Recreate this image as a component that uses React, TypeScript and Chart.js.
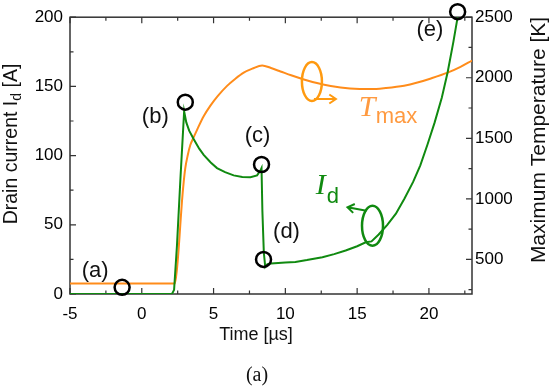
import React, { useEffect, useRef } from "react";
import { Chart, registerables } from "chart.js";

Chart.register(...registerables);

// ---- Drain current Id [A] vs time [µs]
const idTime = [-5, 2.1, 2.25, 2.45, 2.7, 2.95, 3.1, 3.3, 3.61, 4.0, 4.31, 4.8, 5.24, 5.8, 6.4, 7.0, 7.57, 8.03, 8.25, 8.34, 8.4, 8.5, 8.6, 8.75, 9.0, 10.0, 10.7, 11.5, 12.58, 13.4, 14.2, 15.0, 15.6, 16.0, 16.5, 17.1, 17.7, 18.3, 18.9, 19.4, 19.9, 20.4, 20.9, 21.3, 21.7, 22.0];
const idCurrent = [0, 0, 3, 35, 85, 132, 124, 118, 112, 105, 100.5, 95, 91, 88, 85.7, 84.5, 84.3, 85.7, 89, 91, 60, 30, 19.5, 21.5, 22, 22.7, 23.2, 24.5, 26.6, 28.8, 31.4, 34.5, 37.4, 38, 43, 50, 58, 69, 81, 93, 108, 124, 142, 160, 182, 200];

// ---- Maximum temperature [K] vs time [µs]
const tTime = [-5, 2.3, 2.45, 2.56, 2.68, 2.8, 2.92, 3.03, 3.2, 3.38, 3.6, 3.85, 4.3, 4.78, 5.3, 5.94, 6.5, 7.1, 7.7, 8.39, 9.0, 9.66, 10.4, 11.29, 12.2, 13.16, 14.5, 15.95, 17.0, 18.27, 19.2, 20.14, 21.3, 22.2, 23];
const tTemp = [300, 300, 420, 573, 780, 981, 1140, 1253, 1360, 1444, 1505, 1570, 1680, 1770, 1850, 1933, 1990, 2042, 2075, 2102, 2080, 2052, 2020, 1986, 1956, 1932, 1912, 1906, 1915, 1934, 1960, 1994, 2042, 2090, 2142];

// ---- Marked states (a)-(e)
const markerTime = [-1.37, 3.03, 8.34, 8.48, 22.0];
const markerCurrent = [4.8, 138.6, 93.6, 25, 204];
const markerLabels = ["(a)", "(b)", "(c)", "(d)", "(e)"];
const labelTime = [-3.25, 0.94, 8.06, 10.08, 20.07];
const labelCurrent = [17, 128, 114, 45, 191];

// ---- Axes
const xMin = -5, xMax = 23;
const yMin = 0, yMax = 200;
const y2Min = 214, y2Max = 2500;
const xTicks = [-5, 0, 5, 10, 15, 20];
const xMinorTicks = [-2.5, 2.5, 7.5, 12.5, 17.5, 22.5];
const yTicks = [0, 50, 100, 150, 200];
const yMinorTicks = [25, 75, 125, 175];
const y2Ticks = [500, 1000, 1500, 2000, 2500];
const y2MinorTicks = [250, 750, 1250, 1750, 2250];

const SANS = "'Liberation Sans', Arial, sans-serif";
const SERIF = "'Liberation Serif', 'Times New Roman', serif";
const GREEN = "#108a10";
const ORANGE = "#ff8c1a";
const ORANGE_LIGHT = "#ff9a40";

function drawArrow(ctx: CanvasRenderingContext2D, x1: number, y1: number, x2: number, y2: number) {
  ctx.beginPath();
  ctx.moveTo(x1, y1);
  ctx.lineTo(x2, y2);
  const a = Math.atan2(y2 - y1, x2 - x1);
  const L = 8, w = 0.6;
  ctx.moveTo(x2 - L * Math.cos(a - w), y2 - L * Math.sin(a - w));
  ctx.lineTo(x2, y2);
  ctx.lineTo(x2 - L * Math.cos(a + w), y2 - L * Math.sin(a + w));
  ctx.stroke();
}

function drawRotatedTitle(ctx: CanvasRenderingContext2D, cx: number, cy: number, parts: { t: string; sub?: boolean }[], size: number) {
  ctx.save();
  ctx.translate(cx, cy);
  ctx.rotate(-Math.PI / 2);
  const subSize = size * 0.72;
  let total = 0;
  for (const p of parts) {
    ctx.font = `${p.sub ? subSize : size}px ${SANS}`;
    total += ctx.measureText(p.t).width;
  }
  let x = -total / 2;
  ctx.textBaseline = "alphabetic";
  ctx.textAlign = "left";
  for (const p of parts) {
    ctx.font = `${p.sub ? subSize : size}px ${SANS}`;
    ctx.fillText(p.t, x, p.sub ? size * 0.22 : 0);
    x += ctx.measureText(p.t).width;
  }
  ctx.restore();
}

const decor = {
  id: "decor",
  beforeDatasetsDraw(chart: any) {
    const ctx: CanvasRenderingContext2D = chart.ctx;
    const { left, right, top, bottom } = chart.chartArea;
    const xs = chart.scales.x, ys = chart.scales.y, y2s = chart.scales.y2;
    ctx.save();
    ctx.strokeStyle = "#333";
    ctx.lineWidth = 1.5;
    ctx.strokeRect(left, top, right - left, bottom - top);
    ctx.lineWidth = 1.2;
    ctx.beginPath();
    const tick = (vals: number[], len: number) => {
      for (const v of vals) {
        const px = xs.getPixelForValue(v);
        ctx.moveTo(px, bottom); ctx.lineTo(px, bottom - len);
        ctx.moveTo(px, top); ctx.lineTo(px, top + len);
      }
    };
    tick(xTicks, 6);
    tick(xMinorTicks, 3.5);
    for (const v of yTicks) { const p = ys.getPixelForValue(v); ctx.moveTo(left, p); ctx.lineTo(left + 6, p); }
    for (const v of yMinorTicks) { const p = ys.getPixelForValue(v); ctx.moveTo(left, p); ctx.lineTo(left + 3.5, p); }
    for (const v of y2Ticks) { const p = y2s.getPixelForValue(v); ctx.moveTo(right, p); ctx.lineTo(right - 6, p); }
    for (const v of y2MinorTicks) { const p = y2s.getPixelForValue(v); ctx.moveTo(right, p); ctx.lineTo(right - 3.5, p); }
    ctx.stroke();
    ctx.restore();
  },
  afterDatasetsDraw(chart: any) {
    const ctx: CanvasRenderingContext2D = chart.ctx;
    const xs = chart.scales.x, ys = chart.scales.y, y2s = chart.scales.y2;
    ctx.save();
    // state labels
    ctx.fillStyle = "#111";
    ctx.font = `22px ${SANS}`;
    ctx.textAlign = "center";
    ctx.textBaseline = "middle";
    markerLabels.forEach((l, i) => {
      ctx.fillText(l, xs.getPixelForValue(labelTime[i]), ys.getPixelForValue(labelCurrent[i]));
    });

    // Tmax ellipse + arrow
    const ox = xs.getPixelForValue(11.85), oy = y2s.getPixelForValue(1969);
    ctx.strokeStyle = "#ff9a10";
    ctx.lineWidth = 2.5;
    ctx.beginPath();
    ctx.ellipse(ox, oy, 10, 19.5, 0, 0, Math.PI * 2);
    ctx.stroke();
    ctx.lineWidth = 2;
    drawArrow(ctx, ox + 2, oy + 17.5, ox + 24, oy + 17.5);

    // Id ellipse + arrow
    const gx = xs.getPixelForValue(16.07), gy = ys.getPixelForValue(49.3);
    ctx.strokeStyle = GREEN;
    ctx.lineWidth = 2.5;
    ctx.beginPath();
    ctx.ellipse(gx, gy, 10.5, 20, 0, 0, Math.PI * 2);
    ctx.stroke();
    ctx.lineWidth = 2;
    drawArrow(ctx, gx - 6, gy - 15, gx - 25, gy - 18.5);

    // Tmax label
    ctx.textAlign = "left";
    ctx.textBaseline = "alphabetic";
    ctx.fillStyle = ORANGE_LIGHT;
    const tx = xs.getPixelForValue(15.11), ty = y2s.getPixelForValue(1680);
    ctx.font = `italic 30px ${SERIF}`;
    ctx.fillText("T", tx, ty);
    ctx.font = `22px ${SANS}`;
    ctx.fillText("max", tx + 17, ty + 7);

    // Id label
    ctx.fillStyle = GREEN;
    const ix = xs.getPixelForValue(12.12), iy = ys.getPixelForValue(72.1);
    ctx.font = `italic 30px ${SERIF}`;
    ctx.fillText("I", ix, iy);
    ctx.font = `22px ${SANS}`;
    ctx.fillText("d", ix + 11, iy + 9);

    // axis titles
    ctx.fillStyle = "#111";
    drawRotatedTitle(ctx, 17, 144, [{ t: "Drain current I" }, { t: "d", sub: true }, { t: " [A]" }], 19.5);
    drawRotatedTitle(ctx, 545, 140, [{ t: "Maximum Temperature [K]" }], 21);
    ctx.font = `18px ${SANS}`;
    ctx.textAlign = "center";
    ctx.fillText("Time [\u00b5s]", 256, 340);
    ctx.font = `20px ${SERIF}`;
    ctx.fillText("(a)", 257, 381);
    ctx.restore();
  },
};

export default function App() {
  const ref = useRef<HTMLCanvasElement | null>(null);
  useEffect(() => {
    if (!ref.current) return;
    const tickFont = { family: SANS, size: 17 };
    const chart = new Chart(ref.current, {
      type: "line",
      data: {
        datasets: [
          {
            label: "states",
            data: markerTime.map((t, i) => ({ x: t, y: markerCurrent[i] })),
            yAxisID: "y",
            showLine: false,
            pointRadius: 7.5,
            pointBorderWidth: 2.5,
            pointBorderColor: "#000",
            pointBackgroundColor: "rgba(0,0,0,0)",
            clip: false,
            order: 0,
          } as any,
          {
            label: "Id",
            data: idTime.map((t, i) => ({ x: t, y: idCurrent[i] })),
            yAxisID: "y",
            borderColor: GREEN,
            borderWidth: 2,
            pointRadius: 0,
            tension: 0,
            order: 1,
          },
          {
            label: "Tmax",
            data: tTime.map((t, i) => ({ x: t, y: tTemp[i] })),
            yAxisID: "y2",
            borderColor: ORANGE,
            borderWidth: 2,
            pointRadius: 0,
            cubicInterpolationMode: "monotone",
            order: 2,
          },
        ],
      },
      options: {
        animation: false,
        responsive: false,
        layout: { padding: { top: 14, left: 0, right: 0, bottom: 0 } },
        plugins: { legend: { display: false }, tooltip: { enabled: false } },
        scales: {
          x: {
            type: "linear",
            min: xMin,
            max: xMax,
            afterBuildTicks: (s: any) => { s.ticks = xTicks.map((v) => ({ value: v })); },
            afterFit: (s: any) => { s.height = 98; },
            grid: { display: false, drawTicks: false },
            border: { display: false },
            ticks: { padding: 10, color: "#000", font: tickFont, maxRotation: 0, autoSkip: false, callback: (v: any) => String(v) },
          },
          y: {
            type: "linear",
            position: "left",
            min: yMin,
            max: yMax,
            afterBuildTicks: (s: any) => { s.ticks = yTicks.map((v) => ({ value: v })); },
            afterFit: (s: any) => { s.width = 70; },
            grid: { display: false, drawTicks: false },
            border: { display: false },
            ticks: { padding: 7, color: "#000", font: tickFont, callback: (v: any) => String(v) },
          },
          y2: {
            type: "linear",
            position: "right",
            min: y2Min,
            max: y2Max,
            afterBuildTicks: (s: any) => { s.ticks = y2Ticks.map((v) => ({ value: v })); },
            afterFit: (s: any) => { s.width = 79; },
            grid: { display: false, drawTicks: false },
            border: { display: false },
            ticks: { padding: 3, color: "#000", font: tickFont, callback: (v: any) => String(v) },
          },
        },
      },
      plugins: [decor],
    } as any);
    return () => chart.destroy();
  }, []);
  return (
    <div style={{ position: "absolute", left: 0, top: 0, width: 551, height: 392, background: "#fff" }}>
      <canvas ref={ref} width={551} height={392} style={{ display: "block", width: 551, height: 392 }} />
    </div>
  );
}
